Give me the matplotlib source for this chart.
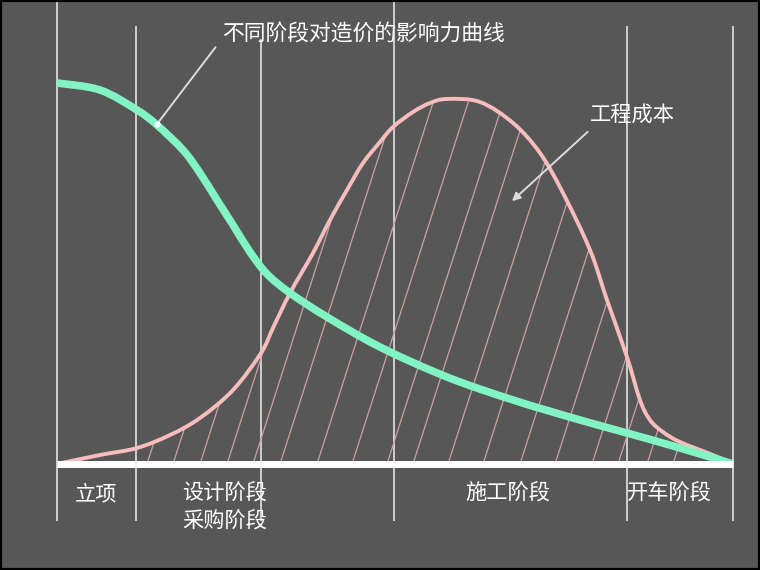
import matplotlib
matplotlib.use("Agg")
from matplotlib import pyplot as plt
from matplotlib.patches import Rectangle, PathPatch
from matplotlib.path import Path
import numpy as np

plt.rcParams['font.family'] = ['Noto Sans CJK SC', 'DejaVu Sans']

# project progress (0-100) vs relative level (0-100)
influence_x = [0, 6.36, 11.83, 14.79, 18.64, 21.15, 23.67, 26.04, 28.55, 31.07,
               34.47, 39.94, 47.78, 57.69, 67.46, 77.37, 84.32, 92.16, 100]
influence_y = [95.25, 93.5, 88.5, 84.75, 78.5, 72.75, 66, 59.75, 53, 47.5,
               42.75, 36.75, 29.25, 21.75, 16, 11, 7.75, 4, 0]

cost_x = [0, 6.36, 11.83, 16.72, 21.15, 26.04, 30.18, 31.95, 34.47, 37.87,
          40.38, 42.9, 45.27, 47.78, 49.7, 52.66, 55.18, 57.69, 62.57, 67.46,
          71.45, 74.85, 78.85, 81.36, 84.32, 86.24, 87.72, 89.64, 92.16,
          97.04, 100]
cost_y = [0, 2.25, 4, 7.25, 11.5, 18.5, 27.75, 34, 42.75, 52.75,
          61, 68.5, 75.25, 80.5, 84.25, 88, 90.25, 91.25, 90.5, 85.25,
          77.75, 67.75, 53.5, 41, 26.75, 16, 11, 8, 5.5,
          2.25, 0]

stage_bounds = [0, 11.7, 30.2, 49.9, 84.3, 100]
stage_tops = [116, 109.25, 106, 116, 109.25, 109.25]

# feet of the hand-drawn hatch strokes along the baseline
hatch_feet = [13.31, 17.16, 21.15, 25.15, 28.99, 32.99, 38.46, 43.64, 48.82,
              52.66, 57.84, 63.02, 68.49, 73.67, 79.14, 82.99, 87.28, 91.12]

title_text = '不同阶段对造价的影响力曲线'
cost_text = '工程成本'
stage_labels = [('立项', 5.8, -7.5, 'center'),
                ('设计阶段', 18.5, -7.5, 'left'),
                ('采购阶段', 18.5, -14.5, 'left'),
                ('施工阶段', 60.4, -7.5, 'left'),
                ('开车阶段', 84.3, -7.5, 'left')]

bg = '#575757'
line_gray = '#cfcfcf'
green = '#82f4c4'
pink = '#f7bdbd'
hatch_col = '#c9a3a3'


def smooth_path(xs, ys, close_to_base=False):
    """Catmull-Rom curve through the points, as cubic Bezier segments."""
    p = np.column_stack([xs, ys]).astype(float)
    ext = np.vstack([p[0], p, p[-1]])
    verts = [p[0]]
    codes = [Path.MOVETO]
    for i in range(1, len(ext) - 2):
        p0, p1, p2, p3 = ext[i - 1], ext[i], ext[i + 1], ext[i + 2]
        verts += [p1 + (p2 - p0) / 6, p2 - (p3 - p1) / 6, p2]
        codes += [Path.CURVE4] * 3
    if close_to_base:
        verts += [p[0], p[0]]
        codes += [Path.LINETO, Path.CLOSEPOLY]
    return Path(np.array(verts), codes)


fig = plt.figure(figsize=(7.6, 5.7), dpi=100, facecolor=bg)
ax = fig.add_axes([57 / 760, 106 / 570, 676 / 760, 400 / 570])
ax.set_xlim(0, 100)
ax.set_ylim(0, 100)
ax.set_facecolor(bg)
ax.axis('off')

# stage boundaries
for xb, top in zip(stage_bounds, stage_tops):
    ax.plot([xb, xb], [-14, top], color=line_gray, lw=1.4, clip_on=False, zorder=1)

# hatched area under cost curve
area = PathPatch(smooth_path(cost_x, cost_y, close_to_base=True),
                 facecolor='none', edgecolor='none', zorder=2)
ax.add_patch(area)
for x0 in hatch_feet:
    yy = np.array([0, 100])
    hl, = ax.plot(x0 + 0.19 * yy, yy, color=hatch_col, lw=0.9, zorder=2)
    hl.set_clip_path(area)

ax.add_patch(PathPatch(smooth_path(cost_x, cost_y), facecolor='none',
                       edgecolor=pink, lw=2.8, zorder=3))
ax.add_patch(PathPatch(smooth_path(influence_x, influence_y), facecolor='none',
                       edgecolor=green, lw=5.5, capstyle='butt', zorder=4,
                       clip_on=False))

# baseline
ax.plot([0, 100], [0, 0], color='white', lw=5, solid_capstyle='butt',
        clip_on=False, zorder=5)

# annotations
ax.annotate('', xy=(14.8, 85), xytext=(23.7, 104.75),
            arrowprops=dict(arrowstyle='-', color='#dcdcdc', lw=1.4),
            annotation_clip=False, zorder=6)
ax.plot([14.8], [85], 'o', color='white', ms=3.5, zorder=6)
ax.text(24.4, 107.5, title_text, color='white', fontsize=15.7, va='center',
        ha='left', clip_on=False)

ax.annotate('', xy=(67.0, 65.25), xytext=(78.8, 83.5),
            arrowprops=dict(arrowstyle='-|>', color='#dcdcdc', lw=1.4,
                            mutation_scale=12),
            annotation_clip=False, zorder=6)
ax.text(78.8, 87.25, cost_text, color='white', fontsize=15.3, va='center',
        ha='left', clip_on=False)

for label, lx, ly, ha in stage_labels:
    ax.text(lx, ly, label, color='white', fontsize=15.3, va='center', ha=ha,
            clip_on=False)

# black frame
fig.patches.append(Rectangle((0, 0), 1, 1, transform=fig.transFigure,
                             fill=False, edgecolor='black', lw=3))

fig.savefig('out.png', dpi=100, facecolor=bg)
